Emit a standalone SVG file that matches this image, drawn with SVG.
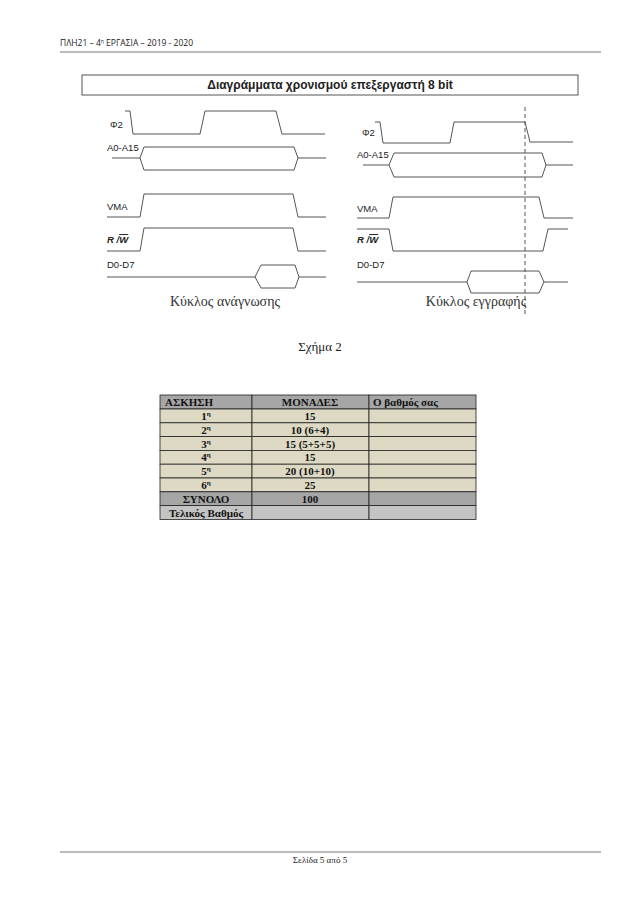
<svg xmlns="http://www.w3.org/2000/svg" width="638" height="902" viewBox="0 0 638 902">
<style>
.sig{fill:none;stroke:#555;stroke-width:1}
.lbl{font-family:"Liberation Sans",Arial,sans-serif;font-size:9.5px;fill:#222}
.cap{font-family:"Liberation Serif","Times New Roman",serif;font-size:14px;fill:#333;text-anchor:middle}
.th{font-family:"Liberation Serif",serif;font-size:11px;font-weight:bold;fill:#111;text-anchor:middle}
.th.st{text-anchor:start}
.cell{stroke:#222;stroke-width:0.8}
</style>
<rect width="638" height="902" fill="#fff"/>
<g id="page-header">
<text x="60" y="46" font-family="'Open Sans','Liberation Sans',sans-serif" font-size="8.5" fill="#222">ΠΛΗ21 – 4<tspan font-size="5" dy="-3">η</tspan><tspan dy="3"> ΕΡΓΑΣΙΑ – 2019 - 2020</tspan></text>
<line x1="60" y1="52" x2="601" y2="52" stroke="#555" stroke-width="0.8"/>
</g>
<g id="title">
<rect x="82" y="75" width="496" height="20" fill="#fff" stroke="#555"/>
<text x="330" y="89" text-anchor="middle" font-family="'Liberation Sans',Arial,sans-serif" font-size="12" font-weight="bold" fill="#222">Διαγράμματα χρονισμού επεξεργαστή 8 bit</text>
</g>
<g id="read-cycle">
<text class="lbl" x="110" y="128">Φ2</text>
<path class="sig" d="M125,111 H130 L133,134 H200 L205,111 H276 L282,134 H325"/>
<text class="lbl" x="107" y="151">A0-A15</text>
<path class="sig" d="M112,158 H140 L144,147 H294 L298,158 H326 M140,158 L144,170 H294 L298,158"/>
<text class="lbl" x="107" y="210">VMA</text>
<path class="sig" d="M107,217 H140 L144,194 H293 L298,217 H326"/>
<text class="lbl" x="107" y="243" font-weight="bold" font-style="italic">R /<tspan text-decoration="overline">W</tspan></text>
<path class="sig" d="M107,251 H140 L144,228 H293 L298,251 H326"/>
<text class="lbl" x="107" y="268">D0-D7</text>
<path class="sig" d="M107,277 H255 L261,265 H295 L299,277 H326 M255,277 L261,288 H295 L299,277"/>
<text class="cap" x="225" y="306">Κύκλος ανάγνωσης</text>
</g>
<g id="write-cycle">
<text class="lbl" x="362" y="136">Φ2</text>
<path class="sig" d="M375,122 H380 L383,143 H450 L454,122 H525 L530,142 H533 H573"/>
<text class="lbl" x="357" y="158">A0-A15</text>
<path class="sig" d="M363,165 H389 L394,153 H542 L546,165 H573 M389,165 L394,177 H542 L546,165"/>
<text class="lbl" x="357" y="212">VMA</text>
<path class="sig" d="M357,218 H389 L393,197 H539 L544,218 H573"/>
<text class="lbl" x="357" y="243" font-weight="bold" font-style="italic">R /<tspan text-decoration="overline">W</tspan></text>
<path class="sig" d="M357,229 H389 L393,251 H543 L548,229 H568"/>
<text class="lbl" x="357" y="268">D0-D7</text>
<path class="sig" d="M357,282 H467 L471,271 H539 L544,282 H568 M467,282 L471,293 H539 L544,282"/>
<line x1="525" y1="107" x2="525" y2="314" stroke="#555" stroke-width="1" stroke-dasharray="4,3"/>
<text class="cap" x="476" y="306">Κύκλος εγγραφής</text>
</g>
<g id="figure-caption">
<text x="320" y="351" text-anchor="middle" font-family="'Liberation Serif',serif" font-size="13" fill="#222">Σχήμα 2</text>
</g>
<g id="table">
<rect class="cell" x="160" y="395" width="92" height="14" fill="#a6a6a6"/>
<rect class="cell" x="252" y="395" width="117" height="14" fill="#a6a6a6"/>
<rect class="cell" x="369" y="395" width="107" height="14" fill="#a6a6a6"/>
<g fill="#ddd9c4">
<rect class="cell" x="160" y="409" width="92" height="13.8"/><rect class="cell" x="252" y="409" width="117" height="13.8"/><rect class="cell" x="369" y="409" width="107" height="13.8"/>
<rect class="cell" x="160" y="422.8" width="92" height="13.8"/><rect class="cell" x="252" y="422.8" width="117" height="13.8"/><rect class="cell" x="369" y="422.8" width="107" height="13.8"/>
<rect class="cell" x="160" y="436.6" width="92" height="13.8"/><rect class="cell" x="252" y="436.6" width="117" height="13.8"/><rect class="cell" x="369" y="436.6" width="107" height="13.8"/>
<rect class="cell" x="160" y="450.4" width="92" height="13.8"/><rect class="cell" x="252" y="450.4" width="117" height="13.8"/><rect class="cell" x="369" y="450.4" width="107" height="13.8"/>
<rect class="cell" x="160" y="464.2" width="92" height="13.8"/><rect class="cell" x="252" y="464.2" width="117" height="13.8"/><rect class="cell" x="369" y="464.2" width="107" height="13.8"/>
<rect class="cell" x="160" y="478" width="92" height="13.8"/><rect class="cell" x="252" y="478" width="117" height="13.8"/><rect class="cell" x="369" y="478" width="107" height="13.8"/>
</g>
<rect class="cell" x="160" y="491.8" width="92" height="13.8" fill="#a6a6a6"/><rect class="cell" x="252" y="491.8" width="117" height="13.8" fill="#a6a6a6"/><rect class="cell" x="369" y="491.8" width="107" height="13.8" fill="#a6a6a6"/>
<rect class="cell" x="160" y="505.6" width="92" height="13.8" fill="#c4c4c4"/><rect class="cell" x="252" y="505.6" width="117" height="13.8" fill="#c4c4c4"/><rect class="cell" x="369" y="505.6" width="107" height="13.8" fill="#c4c4c4"/>
<text class="th st" x="165" y="406">ΑΣΚΗΣΗ</text>
<text class="th" x="310" y="406">ΜΟΝΑΔΕΣ</text>
<text class="th st" x="373" y="406">Ο βαθμός σας</text>
<text class="th" x="206" y="420">1<tspan font-size="7" dy="-4">η</tspan></text>
<text class="th" x="206" y="433.8">2<tspan font-size="7" dy="-4">η</tspan></text>
<text class="th" x="206" y="447.6">3<tspan font-size="7" dy="-4">η</tspan></text>
<text class="th" x="206" y="461.4">4<tspan font-size="7" dy="-4">η</tspan></text>
<text class="th" x="206" y="475.2">5<tspan font-size="7" dy="-4">η</tspan></text>
<text class="th" x="206" y="489">6<tspan font-size="7" dy="-4">η</tspan></text>
<text class="th" x="310" y="420">15</text>
<text class="th" x="310" y="433.8">10 (6+4)</text>
<text class="th" x="310" y="447.6">15 (5+5+5)</text>
<text class="th" x="310" y="461.4">15</text>
<text class="th" x="310" y="475.2">20 (10+10)</text>
<text class="th" x="310" y="489">25</text>
<text class="th" x="206" y="502.8">ΣΥΝΟΛΟ</text>
<text class="th" x="310" y="502.8">100</text>
<text class="th" x="206" y="516.6">Τελικός Βαθμός</text>
</g>
<g id="page-footer">
<line x1="60" y1="852" x2="601" y2="852" stroke="#555" stroke-width="0.8"/>
<text x="320" y="863" text-anchor="middle" font-family="'Liberation Serif',serif" font-size="9" fill="#222">Σελίδα 5 από 5</text>
</g>
</svg>
